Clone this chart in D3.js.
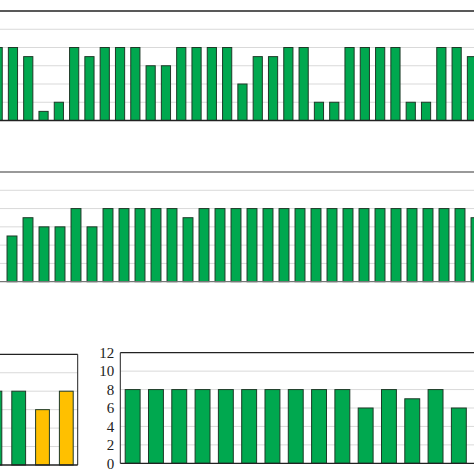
<!DOCTYPE html>
<html><head><meta charset="utf-8">
<script src="https://cdn.jsdelivr.net/npm/d3@7"></script>
<style>body{margin:0;background:#fff}</style></head>
<body><svg id="c" width="474" height="474"></svg>
<script>
const panel1Values = [8,8,7,1,2,8,7,8,8,8,6,6,8,8,8,8,4,7,7,8,8,2,2,8,8,8,8,2,2,8,8,7];
const panel2Values = [5,7,6,6,8,6,8,8,8,8,8,7,8,8,8,8,8,8,8,8,8,8,8,8,8,8,8,8,8,7];
const panel3Values = [8,8,6,8];
const panel3Colors = ["g","g","o","o"];
const panel4Values = [8,8,8,8,8,8,8,8,8,8,6,8,7,8,6];
const yTicks = [0,2,4,6,8,10,12];
const GREEN="#00a84f", ORANGE="#ffc000";
const svg=d3.select("#c");

function panel(o){
  const y=d3.scaleLinear().domain([0,12]).range([o.base,o.top]);
  const x=d3.scaleBand().domain(d3.range(o.values.length)).range([o.x0,o.x0+o.step*o.values.length]).paddingInner(o.pad).paddingOuter(o.pad/2);
  const g=svg.append("g");
  g.selectAll(".gr").data(yTicks.filter(t=>t>0&&t<12)).join("line")
    .attr("x1",o.left).attr("x2",o.right).attr("y1",d=>y(d)).attr("y2",d=>y(d))
    .attr("stroke","#d9d9d9").attr("stroke-width",1);
  g.append("line").attr("x1",o.left).attr("x2",o.right).attr("y1",y(12)).attr("y2",y(12)).attr("stroke",o.topColor).attr("stroke-width",1.3);
  if(o.lb) g.append("line").attr("x1",o.left).attr("x2",o.left).attr("y1",y(12)).attr("y2",y(0)).attr("stroke","#222");
  if(o.rb) g.append("line").attr("x1",o.right).attr("x2",o.right).attr("y1",y(12)).attr("y2",y(0)).attr("stroke","#222");
  g.selectAll("rect").data(o.values).join("rect")
    .attr("x",(d,i)=>x(i)).attr("width",x.bandwidth())
    .attr("y",d=>y(d)).attr("height",d=>y(0)-y(d))
    .attr("fill",(d,i)=>o.colors&&o.colors[i]==="o"?ORANGE:GREEN)
    .attr("stroke","#1e3a28").attr("stroke-width",1);
  g.append("line").attr("x1",o.left).attr("x2",o.right).attr("y1",y(0)).attr("y2",y(0)).attr("stroke",o.baseColor).attr("stroke-width",1.3);
  if(o.axis){
    const ax=svg.append("g").attr("transform",`translate(${o.left-6},0)`)
      .call(d3.axisLeft(y).tickValues(yTicks).tickSize(0).tickPadding(0));
    ax.select(".domain").remove();
    ax.selectAll("text").attr("font-family","Liberation Serif").attr("font-size",15).attr("fill","#222");
  }
}
panel({values:panel1Values,top:11,base:120.5,x0:-10,step:15.3,pad:0.4,left:-5,right:480,topColor:"#222",baseColor:"#222"});
panel({values:panel2Values,top:172,base:281.7,x0:4,step:16,pad:0.38,left:-5,right:480,topColor:"#777",baseColor:"#777"});
panel({values:panel3Values,colors:panel3Colors,top:354.3,base:465,x0:-17,step:23.8,pad:0.42,left:-5,right:77.7,rb:true,topColor:"#222",baseColor:"#222"});
panel({values:panel4Values,top:352.7,base:463.3,x0:121,step:23.3,pad:0.36,left:120.3,right:480,lb:true,axis:true,topColor:"#222",baseColor:"#222"});
</script></body></html>
